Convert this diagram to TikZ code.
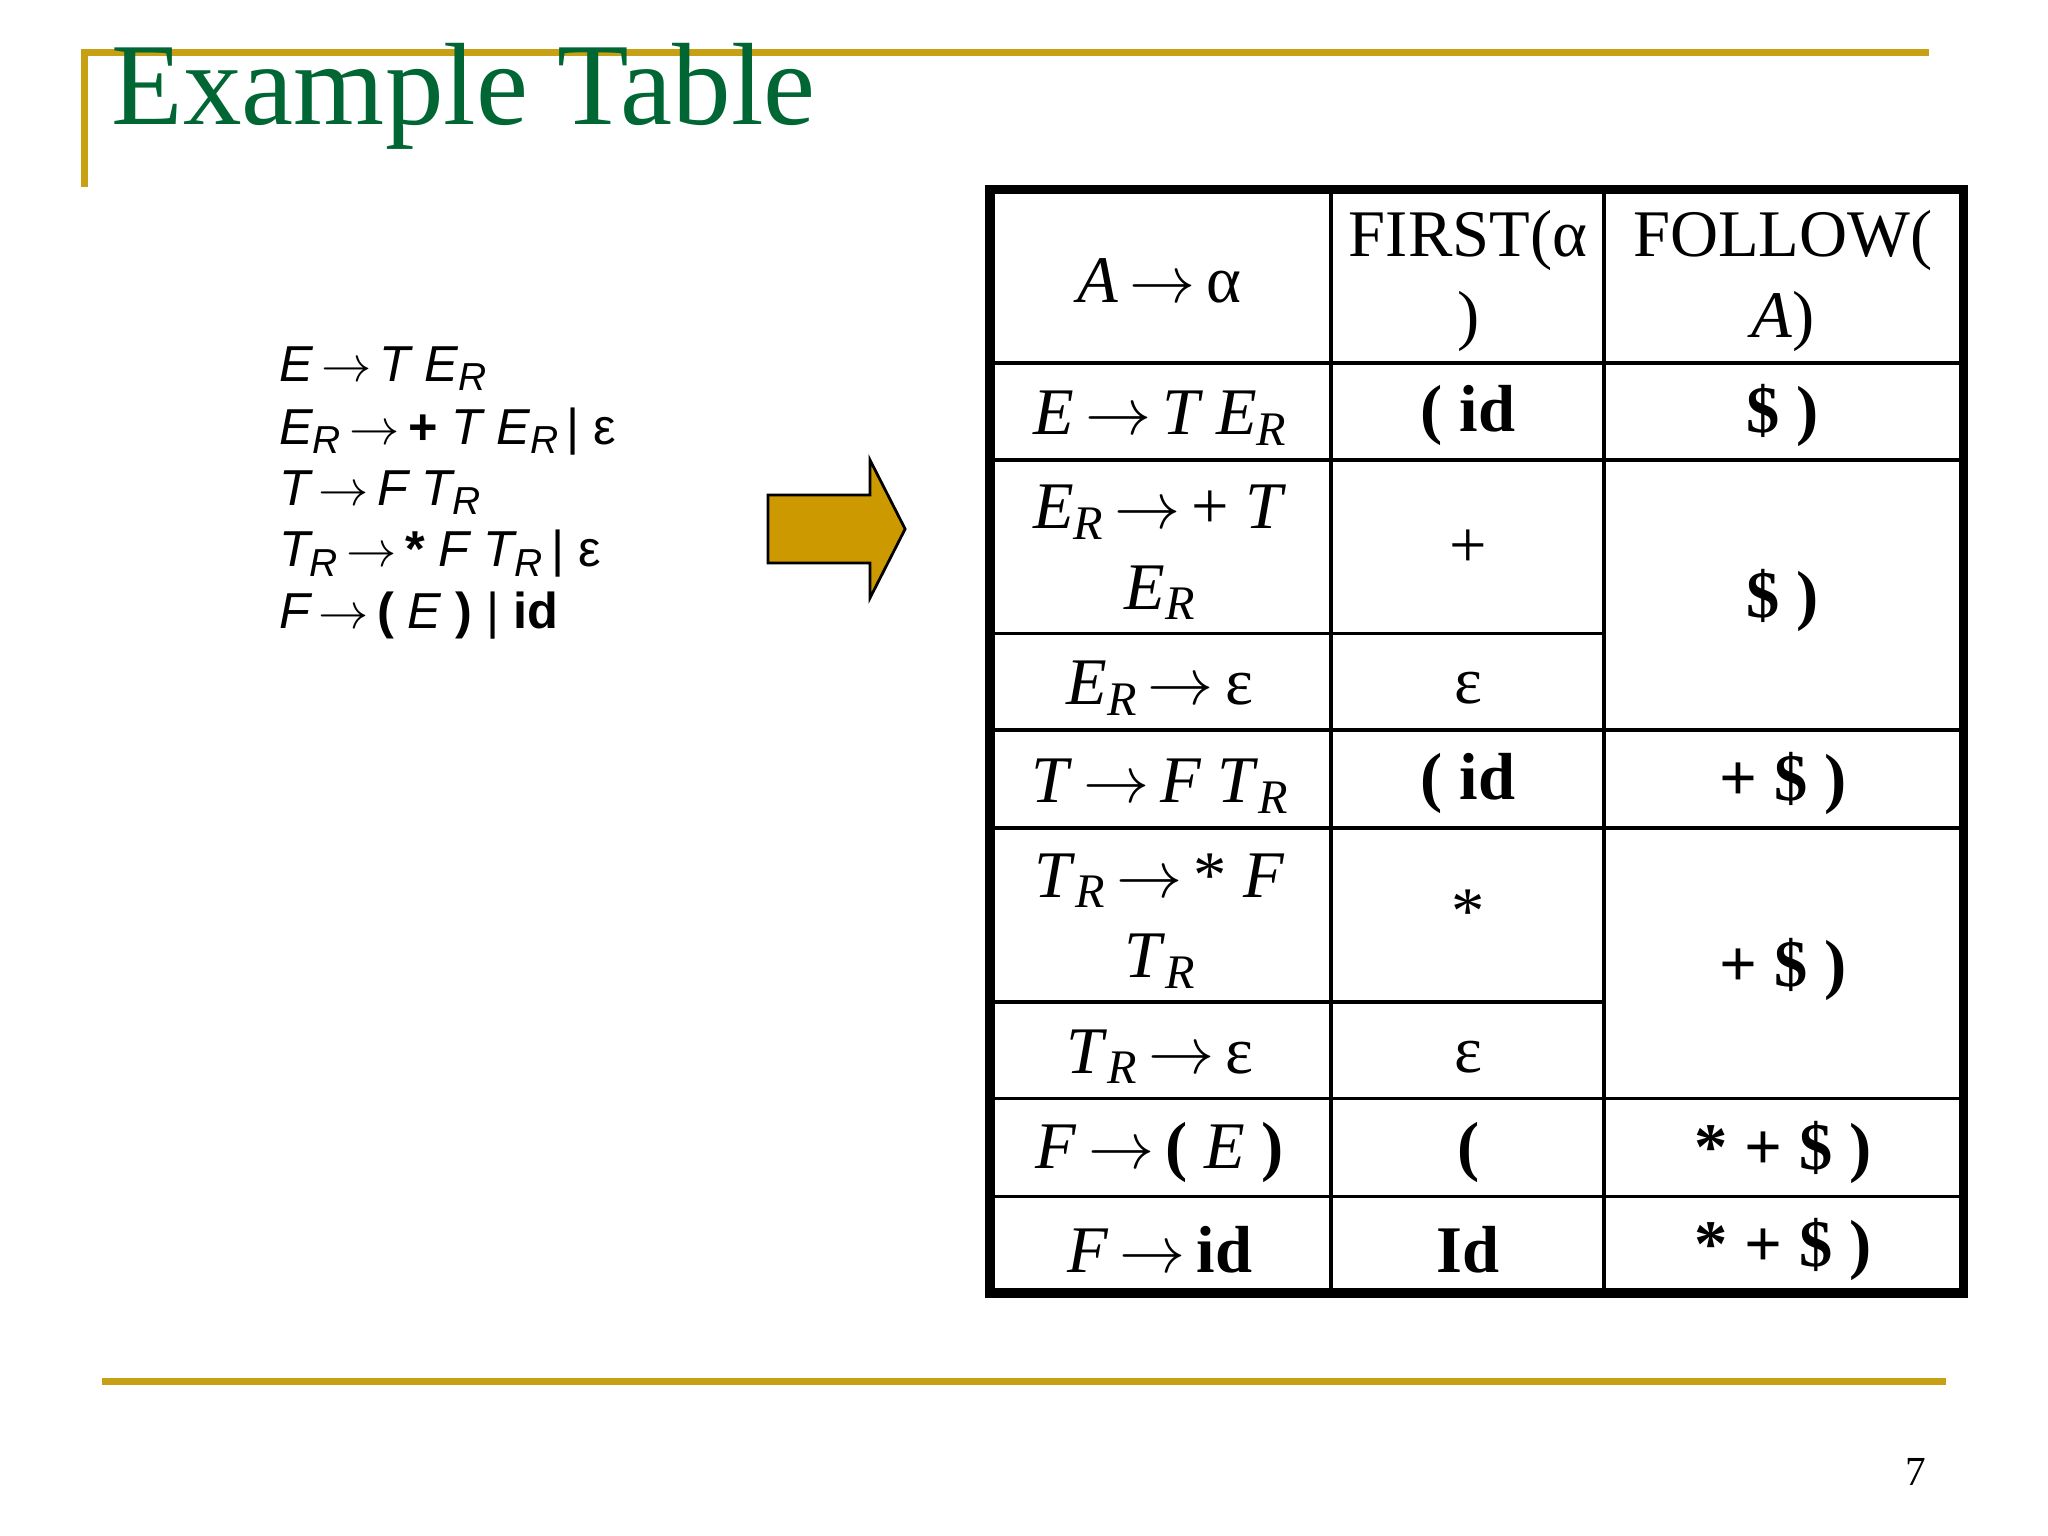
\documentclass[tikz,border=0pt]{standalone}
\usepackage{fontspec}
\setmainfont{Liberation Serif}
\newfontfamily\gsans{Liberation Sans}
\definecolor{gold}{RGB}{200,160,20}
\definecolor{arrowgold}{RGB}{204,153,0}
\definecolor{titlegreen}{RGB}{0,102,51}
\newcommand{\Rs}[1]{\raisebox{-0.35ex}{\fontsize{10.5}{10.5}\selectfont\textit{#1}}}
\newcommand{\Rg}[1]{\raisebox{-0.35ex}{\fontsize{8.5}{8.5}\selectfont\textit{#1}}}
\newcommand{\ar}{\,$\rightarrow$\,}
\begin{document}
\begin{tikzpicture}[x=0.1mm,y=-0.1mm,
  cell/.style={font=\fontsize{14.5}{17.5}\selectfont,align=center,inner sep=0pt},
  gram/.style={font=\gsans\fontsize{11}{13}\selectfont\itshape,anchor=base west,inner sep=0pt}]
\useasboundingbox (0,0) rectangle (1568,1176);
\fill[white] (0,0) rectangle (1568,1176);
% gold lines
\draw[gold,line width=1.5pt] (65,143) -- (65,40) -- (1477,40);
\draw[gold,line width=1.5pt] (78,1058) -- (1490,1058);
\node[anchor=base west,text=titlegreen,font=\fontsize{25.5}{26}\selectfont,inner sep=0pt] (title) at (85,95) {Example Table};
\node[font=\fontsize{9}{9}\selectfont] (pg) at (1467,1127) {7};
% grammar
\node[gram] (g1) at (213,292) {E\ar T E\Rg{R}};
\node[gram] (g2) at (213,340) {E\Rg{R}\ar\textbf{\upshape +} T E\Rg{R}\,\upshape| ε};
\node[gram] (g3) at (213,387) {T\ar F T\Rg{R}};
\node[gram] (g4) at (213,434) {T\Rg{R}\ar\textbf{\upshape *} F T\Rg{R}\,\upshape| ε};
\node[gram] (g5) at (213,481) {F\ar\textbf{\upshape ( }E\textbf{\upshape\ ) }\upshape| \textbf{\upshape id}};
% block arrow
\draw[fill=arrowgold,draw=black,line width=0.6pt] (588,379) -- (666,379) -- (666,352) -- (693,405) -- (666,458) -- (666,431) -- (588,431) -- cycle;
% table grid
\draw[line width=0.8pt] (758,278) -- (1503,278) (758,352) -- (1503,352)
  (758,485) -- (1228,485) (758,559) -- (1503,559) (758,634) -- (1503,634)
  (758,767) -- (1228,767) (758,841) -- (1503,841) (758,916) -- (1503,916)
  (1019,145) -- (1019,990) (1228,145) -- (1228,990);
\draw[line width=2pt] (758,145) rectangle (1503,990);
% header
\node[cell] (h1) at (888,215) {\textit{A}\ar α};
\node[cell] (h2) at (1124,215) {FIRST(α\\)};
\node[cell] (h3) at (1365,215) {FOLLOW(\\\textit{A})};
% rows
\node[cell] (a1) at (888,320) {\textit{E}\ar\textit{T E}\Rs{R}};
\node[cell] (b1) at (1124,318) {\textbf{( id}};
\node[cell] (c1) at (1365,318) {\textbf{\$ )}};
\node[cell] (a2) at (888,423) {\textit{E}\Rs{R}\ar + \textit{T}\\\textit{E}\Rs{R}};
\node[cell] (b2) at (1124,420) {+};
\node[cell] (c2) at (1365,460) {\textbf{\$ )}};
\node[cell] (a3) at (888,527) {\textit{E}\Rs{R}\ar ε};
\node[cell] (b3) at (1124,527) {ε};
\node[cell] (a4) at (888,602) {\textit{T}\ar\textit{F T}\Rs{R}};
\node[cell] (b4) at (1124,600) {\textbf{( id}};
\node[cell] (c4) at (1365,600) {\textbf{+ \$ )}};
\node[cell] (a5) at (888,705) {\textit{T}\Rs{R}\ar * \textit{F}\\\textit{T}\Rs{R}};
\node[cell] (b5) at (1124,698) {*};
\node[cell] (c5) at (1365,742) {\textbf{+ \$ )}};
\node[cell] (a6) at (888,809) {\textit{T}\Rs{R}\ar ε};
\node[cell] (b6) at (1124,809) {ε};
\node[cell] (a7) at (888,882) {\textit{F}\ar\textbf{( }\textit{E}\textbf{ )}};
\node[cell] (b7) at (1124,882) {\textbf{(}};
\node[cell] (c7) at (1365,882) {\textbf{* + \$ )}};
\node[cell] (a8) at (888,957) {\textit{F}\ar\textbf{id}};
\node[cell] (b8) at (1124,957) {\textbf{Id}};
\node[cell] (c8) at (1365,957) {\textbf{* + \$ )}};
\end{tikzpicture}
\end{document}
